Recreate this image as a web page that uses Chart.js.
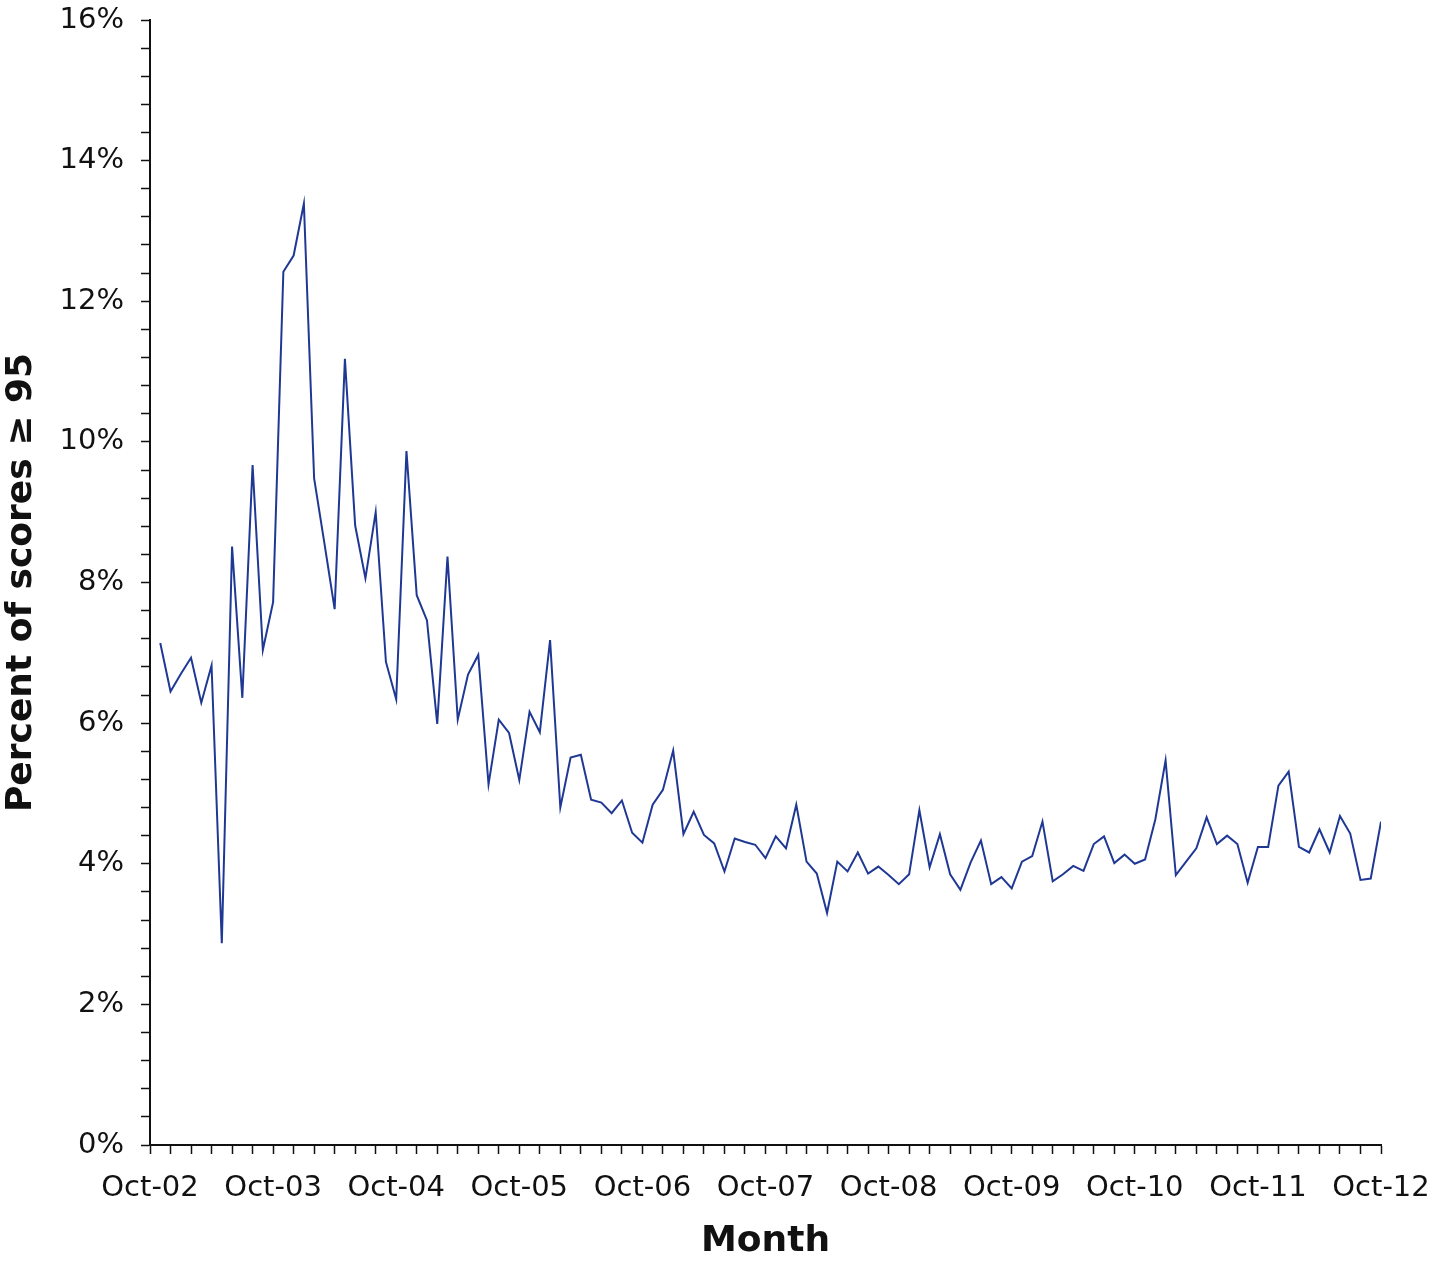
<!DOCTYPE html>
<html>
<head>
<meta charset="utf-8">
<script src="https://cdn.jsdelivr.net/npm/chart.js@4/dist/chart.umd.min.js"></script>
<style>
  html, body { margin: 0; padding: 0; background: #ffffff; }
  #wrap { width: 1434px; height: 1263px; }
</style>
</head>
<body>
<div id="wrap"><canvas id="scoresChart" width="1434" height="1263"></canvas></div>
<script>
// ---------------------------------
// DATA (monthly, Nov-02 .. Oct-12)
// ---------------------------------

const xTickLabels = ['Oct-02', 'Oct-03', 'Oct-04', 'Oct-05', 'Oct-06', 'Oct-07',
                     'Oct-08', 'Oct-09', 'Oct-10', 'Oct-11', 'Oct-12'];

const yTickLabels = ['0%', '2%', '4%', '6%', '8%', '10%', '12%', '14%', '16%'];

// percent of scores >= 95, one value per month starting Nov-02
const pctHigh = [
    7.14, 6.45, 6.70, 6.93, 6.29, 6.82, 2.87, 8.51, 6.36, 9.67, 7.04, 7.72,
    12.42, 12.65, 13.39, 9.48, 8.56, 7.62, 11.18, 8.81, 8.06, 9.00, 6.87, 6.34,
    9.87, 7.82, 7.46, 5.99, 8.37, 6.05, 6.69, 6.97, 5.13, 6.05, 5.86, 5.19,
    6.16, 5.87, 7.18, 4.80, 5.51, 5.55, 4.91, 4.87, 4.72, 4.90, 4.44, 4.30,
    4.84, 5.05, 5.61, 4.42, 4.74, 4.41, 4.29, 3.89, 4.36, 4.31, 4.27, 4.08,
    4.39, 4.22, 4.84, 4.03, 3.86, 3.30, 4.03, 3.89, 4.16, 3.86, 3.96, 3.84,
    3.71, 3.85, 4.76, 3.95, 4.42, 3.85, 3.63, 4.02, 4.33, 3.71, 3.81, 3.65,
    4.03, 4.11, 4.60, 3.75, 3.85, 3.97, 3.90, 4.28, 4.39, 4.01, 4.13, 4.00,
    4.06, 4.63, 5.47, 3.84, 4.03, 4.22, 4.66, 4.28, 4.40, 4.28, 3.73, 4.24,
    4.24, 5.11, 5.31, 4.24, 4.16, 4.49, 4.16, 4.68, 4.43, 3.77, 3.79, 4.60
];

// ---------------------------------
// STYLE
// ---------------------------------

const FONT = "'DejaVu Sans', Verdana, sans-serif";
const INK = '#111111';

// month index 0 = Oct-02, so first value sits at 1
const points = pctHigh.map((v, i) => ({ x: i + 1, y: v }));

new Chart(document.getElementById('scoresChart'), {

    type: 'line',

    data: {
        datasets: [
            {
                label: 'Percent of scores ≥ 95',
                data: points,
                borderColor: '#1f3894',
                backgroundColor: 'transparent',
                borderWidth: 2,
                pointRadius: 0,
                tension: 0,
                fill: false
            }
        ]
    },

    options: {
        responsive: false,
        animation: false,
        devicePixelRatio: 1,

        layout: {
            padding: { top: 20, right: 53, bottom: 0, left: 0 }
        },

        plugins: {
            legend: { display: false },
            tooltip: { enabled: false }
        },

        scales: {

            x: {
                type: 'linear',
                min: 0,
                max: 120,
                border: { color: INK, width: 2 },
                grid: {
                    drawOnChartArea: false,
                    drawTicks: true,
                    tickLength: 9,
                    tickColor: INK,
                    tickWidth: 1.5
                },
                ticks: {
                    stepSize: 2,
                    autoSkip: false,
                    maxRotation: 0,
                    minRotation: 0,
                    padding: 17,
                    color: INK,
                    font: { family: FONT, size: 29 },
                    callback: function (value) {
                        return value % 12 === 0 ? xTickLabels[value / 12] : '';
                    }
                },
                title: {
                    display: true,
                    text: 'Month',
                    color: INK,
                    padding: { top: 0, bottom: 0 },
                    font: { family: FONT, size: 36, weight: 'bold' }
                },
                afterFit: function (scale) {
                    scale.height = 118;
                    // labels may hang past the plot edges, like the original
                    scale.paddingLeft = 0;
                    scale.paddingRight = 0;
                }
            },

            y: {
                min: 0,
                max: 16,
                border: { color: INK, width: 2 },
                grid: {
                    drawOnChartArea: false,
                    drawTicks: true,
                    tickLength: 9,
                    tickColor: INK,
                    tickWidth: 1.5
                },
                ticks: {
                    stepSize: 0.4,
                    autoSkip: false,
                    padding: 17,
                    color: INK,
                    font: { family: FONT, size: 29 },
                    callback: function (value) {
                        const k = Math.round(value / 2);
                        if (Math.abs(value - k * 2) < 1e-6) {
                            return yTickLabels[k];
                        }
                        return '';
                    }
                },
                title: {
                    display: true,
                    text: 'Percent of scores ≥ 95',
                    color: INK,
                    padding: { top: 0, bottom: 0 },
                    font: { family: FONT, size: 36, weight: 'bold' }
                },
                afterFit: function (scale) {
                    scale.width = 150;
                    scale.paddingTop = 0;
                    scale.paddingBottom = 0;
                }
            }
        }
    }
});
</script>
</body>
</html>
